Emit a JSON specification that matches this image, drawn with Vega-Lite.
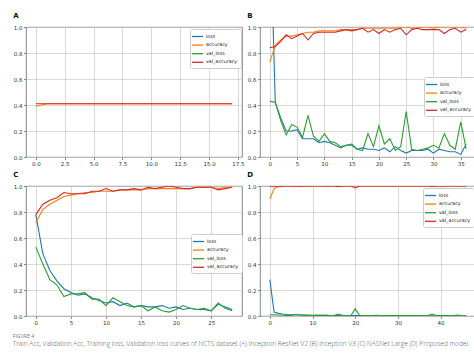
{
  "$schema": "https://vega.github.io/schema/vega-lite/v6.json",
  "padding": {"left": 12, "top": 11, "right": 0, "bottom": 0},
  "background": "white",
  "datasets": {
    "A": [
      {"e":0,"accuracy":0.39,"val_accuracy":0.41},{"e":1,"accuracy":0.41,"val_accuracy":0.41},{"e":2,"accuracy":0.41,"val_accuracy":0.41},{"e":3,"accuracy":0.41,"val_accuracy":0.41},{"e":4,"accuracy":0.41,"val_accuracy":0.41},{"e":5,"accuracy":0.41,"val_accuracy":0.41},{"e":6,"accuracy":0.41,"val_accuracy":0.41},{"e":7,"accuracy":0.41,"val_accuracy":0.41},{"e":8,"accuracy":0.41,"val_accuracy":0.41},{"e":9,"accuracy":0.41,"val_accuracy":0.41},{"e":10,"accuracy":0.41,"val_accuracy":0.41},{"e":11,"accuracy":0.41,"val_accuracy":0.41},{"e":12,"accuracy":0.41,"val_accuracy":0.41},{"e":13,"accuracy":0.41,"val_accuracy":0.41},{"e":14,"accuracy":0.41,"val_accuracy":0.41},{"e":15,"accuracy":0.41,"val_accuracy":0.41},{"e":16,"accuracy":0.41,"val_accuracy":0.41},{"e":17,"accuracy":0.41,"val_accuracy":0.41}
    ],
    "B": [
      {"e":0,"loss":1.9,"accuracy":0.73,"val_loss":0.43,"val_accuracy":0.84},
      {"e":1,"loss":0.42,"accuracy":0.86,"val_loss":0.42,"val_accuracy":0.85},
      {"e":2,"loss":0.30,"accuracy":0.90,"val_loss":0.28,"val_accuracy":0.89},
      {"e":3,"loss":0.20,"accuracy":0.93,"val_loss":0.17,"val_accuracy":0.94},
      {"e":4,"loss":0.20,"accuracy":0.93,"val_loss":0.25,"val_accuracy":0.91},
      {"e":5,"loss":0.21,"accuracy":0.94,"val_loss":0.23,"val_accuracy":0.93},
      {"e":6,"loss":0.14,"accuracy":0.95,"val_loss":0.15,"val_accuracy":0.95},
      {"e":7,"loss":0.14,"accuracy":0.96,"val_loss":0.32,"val_accuracy":0.90},
      {"e":8,"loss":0.14,"accuracy":0.96,"val_loss":0.16,"val_accuracy":0.95},
      {"e":9,"loss":0.11,"accuracy":0.97,"val_loss":0.12,"val_accuracy":0.96},
      {"e":10,"loss":0.12,"accuracy":0.97,"val_loss":0.18,"val_accuracy":0.96},
      {"e":11,"loss":0.11,"accuracy":0.97,"val_loss":0.12,"val_accuracy":0.96},
      {"e":12,"loss":0.09,"accuracy":0.97,"val_loss":0.11,"val_accuracy":0.96},
      {"e":13,"loss":0.07,"accuracy":0.98,"val_loss":0.08,"val_accuracy":0.97},
      {"e":14,"loss":0.09,"accuracy":0.98,"val_loss":0.09,"val_accuracy":0.98},
      {"e":15,"loss":0.10,"accuracy":0.98,"val_loss":0.09,"val_accuracy":0.97},
      {"e":16,"loss":0.06,"accuracy":0.98,"val_loss":0.06,"val_accuracy":0.98},
      {"e":17,"loss":0.07,"accuracy":0.99,"val_loss":0.05,"val_accuracy":0.99},
      {"e":18,"loss":0.06,"accuracy":0.99,"val_loss":0.18,"val_accuracy":0.96},
      {"e":19,"loss":0.06,"accuracy":0.99,"val_loss":0.08,"val_accuracy":0.98},
      {"e":20,"loss":0.05,"accuracy":0.99,"val_loss":0.24,"val_accuracy":0.95},
      {"e":21,"loss":0.07,"accuracy":0.99,"val_loss":0.10,"val_accuracy":0.98},
      {"e":22,"loss":0.04,"accuracy":0.99,"val_loss":0.14,"val_accuracy":0.96},
      {"e":23,"loss":0.08,"accuracy":0.99,"val_loss":0.05,"val_accuracy":0.98},
      {"e":24,"loss":0.05,"accuracy":1.0,"val_loss":0.08,"val_accuracy":0.99},
      {"e":25,"loss":0.03,"accuracy":1.0,"val_loss":0.35,"val_accuracy":0.94},
      {"e":26,"loss":0.05,"accuracy":0.99,"val_loss":0.06,"val_accuracy":0.98},
      {"e":27,"loss":0.05,"accuracy":0.99,"val_loss":0.05,"val_accuracy":0.99},
      {"e":28,"loss":0.05,"accuracy":1.0,"val_loss":0.06,"val_accuracy":0.98},
      {"e":29,"loss":0.06,"accuracy":1.0,"val_loss":0.07,"val_accuracy":0.98},
      {"e":30,"loss":0.03,"accuracy":0.99,"val_loss":0.09,"val_accuracy":0.98},
      {"e":31,"loss":0.06,"accuracy":1.0,"val_loss":0.07,"val_accuracy":0.98},
      {"e":32,"loss":0.05,"accuracy":1.0,"val_loss":0.18,"val_accuracy":0.95},
      {"e":33,"loss":0.04,"accuracy":1.0,"val_loss":0.09,"val_accuracy":0.98},
      {"e":34,"loss":0.04,"accuracy":1.0,"val_loss":0.06,"val_accuracy":0.99},
      {"e":35,"loss":0.02,"accuracy":1.0,"val_loss":0.27,"val_accuracy":0.96},
      {"e":36,"loss":0.10,"accuracy":0.99,"val_loss":0.06,"val_accuracy":0.98}
    ],
    "C": [
      {"e":0,"loss":0.78,"accuracy":0.72,"val_loss":0.53,"val_accuracy":0.78},
      {"e":1,"loss":0.48,"accuracy":0.82,"val_loss":0.40,"val_accuracy":0.86},
      {"e":2,"loss":0.35,"accuracy":0.86,"val_loss":0.28,"val_accuracy":0.89},
      {"e":3,"loss":0.27,"accuracy":0.89,"val_loss":0.24,"val_accuracy":0.91},
      {"e":4,"loss":0.21,"accuracy":0.92,"val_loss":0.15,"val_accuracy":0.95},
      {"e":5,"loss":0.18,"accuracy":0.93,"val_loss":0.17,"val_accuracy":0.94},
      {"e":6,"loss":0.16,"accuracy":0.94,"val_loss":0.17,"val_accuracy":0.94},
      {"e":7,"loss":0.17,"accuracy":0.95,"val_loss":0.18,"val_accuracy":0.94},
      {"e":8,"loss":0.14,"accuracy":0.95,"val_loss":0.13,"val_accuracy":0.96},
      {"e":9,"loss":0.12,"accuracy":0.96,"val_loss":0.13,"val_accuracy":0.96},
      {"e":10,"loss":0.10,"accuracy":0.96,"val_loss":0.08,"val_accuracy":0.98},
      {"e":11,"loss":0.11,"accuracy":0.96,"val_loss":0.14,"val_accuracy":0.96},
      {"e":12,"loss":0.08,"accuracy":0.97,"val_loss":0.11,"val_accuracy":0.97},
      {"e":13,"loss":0.10,"accuracy":0.97,"val_loss":0.08,"val_accuracy":0.97},
      {"e":14,"loss":0.07,"accuracy":0.97,"val_loss":0.07,"val_accuracy":0.98},
      {"e":15,"loss":0.08,"accuracy":0.97,"val_loss":0.08,"val_accuracy":0.97},
      {"e":16,"loss":0.07,"accuracy":0.98,"val_loss":0.04,"val_accuracy":0.99},
      {"e":17,"loss":0.07,"accuracy":0.98,"val_loss":0.07,"val_accuracy":0.98},
      {"e":18,"loss":0.08,"accuracy":0.98,"val_loss":0.04,"val_accuracy":0.99},
      {"e":19,"loss":0.06,"accuracy":0.98,"val_loss":0.03,"val_accuracy":1.0},
      {"e":20,"loss":0.07,"accuracy":0.98,"val_loss":0.05,"val_accuracy":0.99},
      {"e":21,"loss":0.05,"accuracy":0.98,"val_loss":0.08,"val_accuracy":0.98},
      {"e":22,"loss":0.06,"accuracy":0.98,"val_loss":0.06,"val_accuracy":0.98},
      {"e":23,"loss":0.05,"accuracy":0.99,"val_loss":0.05,"val_accuracy":0.99},
      {"e":24,"loss":0.05,"accuracy":0.99,"val_loss":0.06,"val_accuracy":0.99},
      {"e":25,"loss":0.04,"accuracy":0.99,"val_loss":0.04,"val_accuracy":0.99},
      {"e":26,"loss":0.09,"accuracy":0.98,"val_loss":0.10,"val_accuracy":0.97},
      {"e":27,"loss":0.07,"accuracy":0.99,"val_loss":0.06,"val_accuracy":0.98},
      {"e":28,"loss":0.05,"accuracy":0.99,"val_loss":0.04,"val_accuracy":0.99}
    ],
    "D": [
      {"e":0,"loss":0.28,"accuracy":0.90,"val_loss":0.010,"val_accuracy":0.998},
      {"e":1,"loss":0.030,"accuracy":0.98,"val_loss":0.010,"val_accuracy":0.998},
      {"e":2,"loss":0.020,"accuracy":0.995,"val_loss":0.008,"val_accuracy":0.999},
      {"e":3,"loss":0.015,"accuracy":0.997,"val_loss":0.006,"val_accuracy":0.999},
      {"e":4,"loss":0.012,"accuracy":0.998,"val_loss":0.005,"val_accuracy":1.0},
      {"e":5,"loss":0.010,"accuracy":0.998,"val_loss":0.005,"val_accuracy":1.0},
      {"e":6,"loss":0.010,"accuracy":0.998,"val_loss":0.012,"val_accuracy":0.999},
      {"e":7,"loss":0.008,"accuracy":0.999,"val_loss":0.010,"val_accuracy":0.999},
      {"e":8,"loss":0.007,"accuracy":0.999,"val_loss":0.006,"val_accuracy":1.0},
      {"e":9,"loss":0.006,"accuracy":0.999,"val_loss":0.005,"val_accuracy":1.0},
      {"e":10,"loss":0.006,"accuracy":0.999,"val_loss":0.004,"val_accuracy":1.0},
      {"e":11,"loss":0.005,"accuracy":1.0,"val_loss":0.005,"val_accuracy":1.0},
      {"e":12,"loss":0.005,"accuracy":1.0,"val_loss":0.006,"val_accuracy":1.0},
      {"e":13,"loss":0.004,"accuracy":1.0,"val_loss":0.008,"val_accuracy":0.999},
      {"e":14,"loss":0.004,"accuracy":1.0,"val_loss":0.004,"val_accuracy":1.0},
      {"e":15,"loss":0.004,"accuracy":1.0,"val_loss":0.004,"val_accuracy":1.0},
      {"e":16,"loss":0.004,"accuracy":1.0,"val_loss":0.015,"val_accuracy":0.995},
      {"e":17,"loss":0.003,"accuracy":1.0,"val_loss":0.006,"val_accuracy":1.0},
      {"e":18,"loss":0.003,"accuracy":1.0,"val_loss":0.004,"val_accuracy":1.0},
      {"e":19,"loss":0.003,"accuracy":1.0,"val_loss":0.004,"val_accuracy":1.0},
      {"e":20,"loss":0.003,"accuracy":1.0,"val_loss":0.055,"val_accuracy":0.985},
      {"e":21,"loss":0.003,"accuracy":1.0,"val_loss":0.006,"val_accuracy":1.0},
      {"e":22,"loss":0.003,"accuracy":1.0,"val_loss":0.004,"val_accuracy":1.0},
      {"e":23,"loss":0.002,"accuracy":1.0,"val_loss":0.004,"val_accuracy":1.0},
      {"e":24,"loss":0.002,"accuracy":1.0,"val_loss":0.004,"val_accuracy":1.0},
      {"e":25,"loss":0.002,"accuracy":1.0,"val_loss":0.006,"val_accuracy":1.0},
      {"e":26,"loss":0.002,"accuracy":1.0,"val_loss":0.004,"val_accuracy":1.0},
      {"e":27,"loss":0.002,"accuracy":1.0,"val_loss":0.003,"val_accuracy":1.0},
      {"e":28,"loss":0.002,"accuracy":1.0,"val_loss":0.003,"val_accuracy":1.0},
      {"e":29,"loss":0.002,"accuracy":1.0,"val_loss":0.003,"val_accuracy":1.0},
      {"e":30,"loss":0.002,"accuracy":1.0,"val_loss":0.004,"val_accuracy":1.0},
      {"e":31,"loss":0.002,"accuracy":1.0,"val_loss":0.003,"val_accuracy":1.0},
      {"e":32,"loss":0.002,"accuracy":1.0,"val_loss":0.003,"val_accuracy":1.0},
      {"e":33,"loss":0.002,"accuracy":1.0,"val_loss":0.003,"val_accuracy":1.0},
      {"e":34,"loss":0.002,"accuracy":1.0,"val_loss":0.004,"val_accuracy":1.0},
      {"e":35,"loss":0.002,"accuracy":1.0,"val_loss":0.003,"val_accuracy":1.0},
      {"e":36,"loss":0.002,"accuracy":1.0,"val_loss":0.003,"val_accuracy":1.0},
      {"e":37,"loss":0.002,"accuracy":1.0,"val_loss":0.003,"val_accuracy":1.0},
      {"e":38,"loss":0.002,"accuracy":1.0,"val_loss":0.015,"val_accuracy":0.997},
      {"e":39,"loss":0.002,"accuracy":1.0,"val_loss":0.004,"val_accuracy":1.0},
      {"e":40,"loss":0.002,"accuracy":1.0,"val_loss":0.003,"val_accuracy":1.0},
      {"e":41,"loss":0.002,"accuracy":1.0,"val_loss":0.003,"val_accuracy":1.0},
      {"e":42,"loss":0.002,"accuracy":1.0,"val_loss":0.003,"val_accuracy":1.0},
      {"e":43,"loss":0.002,"accuracy":1.0,"val_loss":0.003,"val_accuracy":1.0},
      {"e":44,"loss":0.002,"accuracy":1.0,"val_loss":0.008,"val_accuracy":1.0},
      {"e":45,"loss":0.002,"accuracy":1.0,"val_loss":0.003,"val_accuracy":1.0},
      {"e":46,"loss":0.002,"accuracy":1.0,"val_loss":0.003,"val_accuracy":1.0}
    ]
  },
  "title": {
    "text": "FIGURE 4",
    "subtitle": "Train Acc, Validation Acc, Training loss, Validation loss curves of NCTS dataset (A) Inception ResNet V2 (B) Inception V3 (C) NASNet Large (D) Proposed model.",
    "orient": "bottom",
    "anchor": "start",
    "frame": "bounds",
    "font": "Open Sans",
    "fontSize": 5,
    "fontWeight": "normal",
    "color": "#777",
    "subtitleFont": "Open Sans",
    "subtitleFontSize": 6.55,
    "subtitleFontWeight": 300,
    "subtitleColor": "#555",
    "subtitlePadding": 2.5,
    "offset": 8
  },
  "columns": 2,
  "spacing": {"row": 29, "column": 18},
  "bounds": "flush",
  "resolve": {"scale": {"x": "independent", "color": "independent"}, "legend": {"color": "independent"}},
  "concat": [
    {
      "data": {"name": "A"},
      "title": "A",
      "width": 216, "height": 130,
      "transform": [{"fold": ["accuracy", "val_accuracy"], "as": ["metric", "value"]}],
      "mark": {"type": "line", "strokeWidth": 1.1, "clip": true},
      "encoding": {
        "x": {"field": "e", "type": "quantitative", "scale": {"domain": [-0.85, 17.85], "nice": false, "zero": false}, "axis": {"values": [0, 2.5, 5, 7.5, 10, 12.5, 15, 17.5], "format": ".1f", "title": null}},
        "y": {"field": "value", "type": "quantitative", "scale": {"domain": [0, 1], "nice": false}, "axis": {"values": [0, 0.2, 0.4, 0.6, 0.8, 1.0], "format": ".1f", "title": null}},
        "color": {"field": "metric", "type": "nominal", "scale": {"domain": ["loss", "accuracy", "val_loss", "val_accuracy"], "range": ["#1f77b4", "#ff7f0e", "#2ca02c", "#d62728"]}, "legend": {"orient": "none", "legendX": 164, "legendY": 2}}
      }
    },
    {
      "data": {"name": "B"},
      "title": "B",
      "width": 216, "height": 130,
      "transform": [{"fold": ["loss", "accuracy", "val_loss", "val_accuracy"], "as": ["metric", "value"]}],
      "mark": {"type": "line", "strokeWidth": 1.1, "clip": true},
      "encoding": {
        "x": {"field": "e", "type": "quantitative", "scale": {"domain": [-1.8, 37.8], "nice": false, "zero": false}, "axis": {"values": [0, 5, 10, 15, 20, 25, 30, 35], "title": null}},
        "y": {"field": "value", "type": "quantitative", "scale": {"domain": [0, 1], "nice": false}, "axis": {"values": [0, 0.2, 0.4, 0.6, 0.8, 1.0], "format": ".1f", "title": null}},
        "color": {"field": "metric", "type": "nominal", "scale": {"domain": ["loss", "accuracy", "val_loss", "val_accuracy"], "range": ["#1f77b4", "#ff7f0e", "#2ca02c", "#d62728"]}, "legend": {"orient": "none", "legendX": 164, "legendY": 50}}
      }
    },
    {
      "data": {"name": "C"},
      "title": "C",
      "width": 216, "height": 130,
      "transform": [{"fold": ["loss", "accuracy", "val_loss", "val_accuracy"], "as": ["metric", "value"]}],
      "mark": {"type": "line", "strokeWidth": 1.1, "clip": true},
      "encoding": {
        "x": {"field": "e", "type": "quantitative", "scale": {"domain": [-1.4, 29.4], "nice": false, "zero": false}, "axis": {"values": [0, 5, 10, 15, 20, 25], "title": null}},
        "y": {"field": "value", "type": "quantitative", "scale": {"domain": [0, 1], "nice": false}, "axis": {"values": [0, 0.2, 0.4, 0.6, 0.8, 1.0], "format": ".1f", "title": null}},
        "color": {"field": "metric", "type": "nominal", "scale": {"domain": ["loss", "accuracy", "val_loss", "val_accuracy"], "range": ["#1f77b4", "#ff7f0e", "#2ca02c", "#d62728"]}, "legend": {"orient": "none", "legendX": 165, "legendY": 48}}
      }
    },
    {
      "data": {"name": "D"},
      "title": "D",
      "width": 216, "height": 130,
      "transform": [{"fold": ["loss", "accuracy", "val_loss", "val_accuracy"], "as": ["metric", "value"]}],
      "mark": {"type": "line", "strokeWidth": 1.1, "clip": true},
      "encoding": {
        "x": {"field": "e", "type": "quantitative", "scale": {"domain": [-2.3, 48.3], "nice": false, "zero": false}, "axis": {"values": [0, 10, 20, 30, 40], "title": null}},
        "y": {"field": "value", "type": "quantitative", "scale": {"domain": [0, 1], "nice": false}, "axis": {"values": [0, 0.2, 0.4, 0.6, 0.8, 1.0], "format": ".1f", "title": null}},
        "color": {"field": "metric", "type": "nominal", "scale": {"domain": ["loss", "accuracy", "val_loss", "val_accuracy"], "range": ["#1f77b4", "#ff7f0e", "#2ca02c", "#d62728"]}, "legend": {"orient": "none", "legendX": 163, "legendY": 2}}
      }
    }
  ],
  "config": {
    "font": "DejaVu Sans",
    "view": {"stroke": "#666", "strokeWidth": 0.8},
    "title": {"fontSize": 7, "fontWeight": "bold", "anchor": "start", "frame": "bounds", "offset": 6, "color": "#111"},
    "axis": {
      "labelFontSize": 5.5, "labelColor": "#333", "labelPadding": 1.5,
      "tickSize": 2.5, "tickColor": "#444", "tickWidth": 0.6,
      "domain": false,
      "grid": true, "gridColor": "#c8c8c8", "gridWidth": 0.7
    },
    "legend": {
      "title": null,
      "symbolType": "M-1.6,0H1.6", "symbolSize": 49, "symbolStrokeWidth": 1.3,
      "labelFontSize": 4.8, "labelColor": "#222", "labelOffset": 4,
      "rowPadding": 0.6, "padding": 3,
      "fillColor": "white", "strokeColor": "#ccc", "cornerRadius": 2
    }
  }
}
